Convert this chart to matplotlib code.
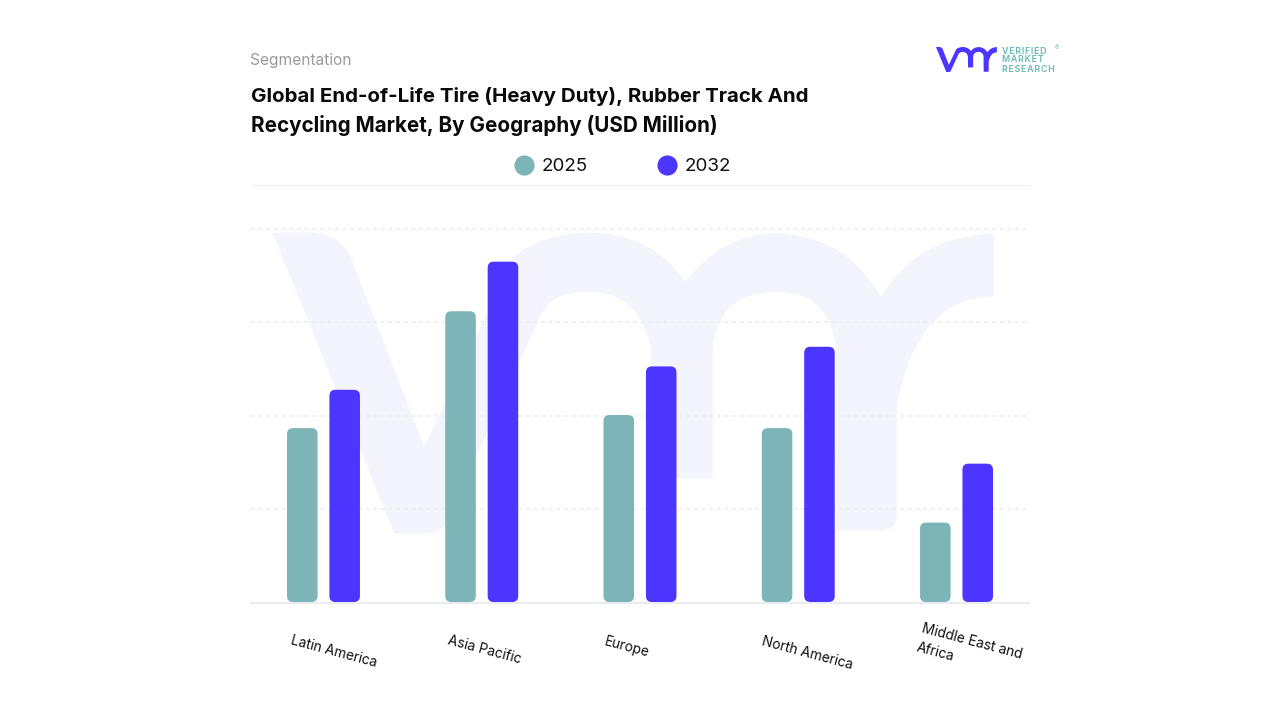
import matplotlib

matplotlib.use("Agg")
import matplotlib.pyplot as plt
from matplotlib.lines import Line2D
from matplotlib.patches import FancyBboxPatch, PathPatch
from matplotlib.path import Path

plt.rcParams["font.family"] = ["Inter", "DejaVu Sans"]

W, H = 1280, 720
TEAL = "#7cb4b8"
BLUE = "#4b35ff"
WATERMARK = "#f4f5fc"
LOGO_TEAL = "#66b9b5"

regions = ["Latin America", "Asia Pacific", "Europe", "North America", "Middle East and\nAfrica"]
values_2025 = [187, 312, 201, 187, 86]
values_2032 = [228, 365, 253, 274, 149]
y_ticks = [100, 200, 300, 400]
years = ["2025", "2032"]

# label centres in reference pixels
label_pos = [(334, 652), (484, 650), (627, 647), (807, 653), (969, 651)]

# vmr mark outline, traced from the watermark
M, L, C, Z = Path.MOVETO, Path.LINETO, Path.CURVE3, Path.CLOSEPOLY
VMR = [
    (M, 45, 38), (L, 130, 38), (C, 190, 50), (C, 205, 120), (L, 350, 680), (L, 530, 110),
    (C, 590, 40), (C, 680, 38), (C, 810, 40), (C, 875, 185), (C, 950, 40), (C, 1060, 40),
    (C, 1200, 50), (C, 1268, 230), (C, 1340, 50), (C, 1495, 40), (L, 1495, 230),
    (C, 1340, 230), (C, 1300, 560), (L, 1300, 900), (C, 1295, 930), (C, 1270, 932),
    (L, 1180, 932), (L, 1178, 380), (C, 1160, 215), (C, 1060, 215), (C, 935, 215),
    (C, 930, 400), (L, 930, 775), (L, 808, 775), (L, 805, 380), (C, 780, 215), (C, 680, 215),
    (C, 600, 215), (C, 580, 300), (L, 390, 920), (C, 370, 940), (C, 350, 940), (L, 290, 940),
    (Z, 45, 38),
]


def draw_vmr(ax, x0, y0, sx, sy, color):
    verts = [(x0 + (x - 45) * sx, y0 + (y - 38) * sy) for _, x, y in VMR]
    codes = [c for c, _, _ in VMR]
    ax.add_patch(PathPatch(Path(verts, codes), facecolor=color, edgecolor="none"))


fig = plt.figure(figsize=(W / 100, H / 100), dpi=100, facecolor="white")

# full-canvas layer in pixels for watermark, logo and free text
bg = fig.add_axes([0, 0, 1, 1], zorder=0)
bg.set_xlim(0, W)
bg.set_ylim(H, 0)
bg.axis("off")
draw_vmr(bg, 272.4, 232.7, 1 / 2.01, 1 / 3, WATERMARK)

ax = fig.add_axes([251 / W, 1 - 603 / H, 778 / W, 418 / H], zorder=1)
ax.patch.set_alpha(0)
ax.set_xlim(-0.458, 4.458)
ax.set_ylim(0, 447)

bar_w = 0.193
off = 0.134
px_x = 778 / 4.916
px_y = 418 / 447
radius = 6 / px_x
aspect = px_x / px_y
for i, (a, b) in enumerate(zip(values_2025, values_2032)):
    for cx, val, col in ((i - off, a, TEAL), (i + off, b, BLUE)):
        bottom = 1 / px_y
        ax.add_patch(FancyBboxPatch((cx - bar_w / 2 + radius, bottom + radius * aspect),
                                    bar_w - 2 * radius, val - bottom - 2 * radius * aspect,
                                    boxstyle=f"round,pad={radius},rounding_size={radius}",
                                    mutation_aspect=aspect, facecolor=col, edgecolor="none", zorder=3))

ax.set_yticks(y_ticks)
ax.set_xticks([])
ax.tick_params(left=False, labelleft=False)
ax.grid(axis="y", color="#ececf1", linestyle=(0, (2.5, 2.5)), linewidth=1.1)
ax.set_axisbelow(True)
for side in ("left", "right"):
    ax.spines[side].set_visible(False)
ax.spines["top"].set_color("#efeff3")
ax.spines["bottom"].set_color("#e9ecf0")
ax.spines["bottom"].set_linewidth(1.5)

handles = [Line2D([], [], linestyle="none", marker="o", markersize=13.5, color=c) for c in (TEAL, BLUE)]
ax.legend(handles, years, ncol=2, loc="center", bbox_to_anchor=(623 / W, 1 - 166.5 / H),
          bbox_transform=fig.transFigure, frameon=False, fontsize=13.5, columnspacing=3.7,
          handlelength=1, handletextpad=0.46, borderpad=0, labelcolor="#111111")

for (x, y), name in zip(label_pos, regions):
    bg.text(x, y, name, rotation=-15, rotation_mode="anchor", ha="center", va="center",
            fontsize=9.9, color="#111111", linespacing=1.6, multialignment="left")

bg.text(250, 60, "Segmentation", fontsize=11.2, color="#9a9a9a", va="center")
bg.text(251, 96, "Global End-of-Life Tire (Heavy Duty), Rubber Track And", fontsize=14.75,
        fontweight="bold", color="#0a0a0a", va="center")
bg.text(251, 125, "Recycling Market, By Geography (USD Million)", fontsize=14.85,
        fontweight="bold", color="#0a0a0a", va="center")

# logo
draw_vmr(bg, 936, 47, 0.042, 0.0277, BLUE)
for y, word in zip((51, 60, 69), ("VERIFIED", "MARKET", "RESEARCH")):
    bg.text(1002, y, "\u200a".join(word), fontsize=6.4, fontweight="semibold", color=LOGO_TEAL, va="center")
bg.text(1055, 48, "®", fontsize=4.5, color=LOGO_TEAL, va="center")

fig.savefig("out.png", dpi=100)
